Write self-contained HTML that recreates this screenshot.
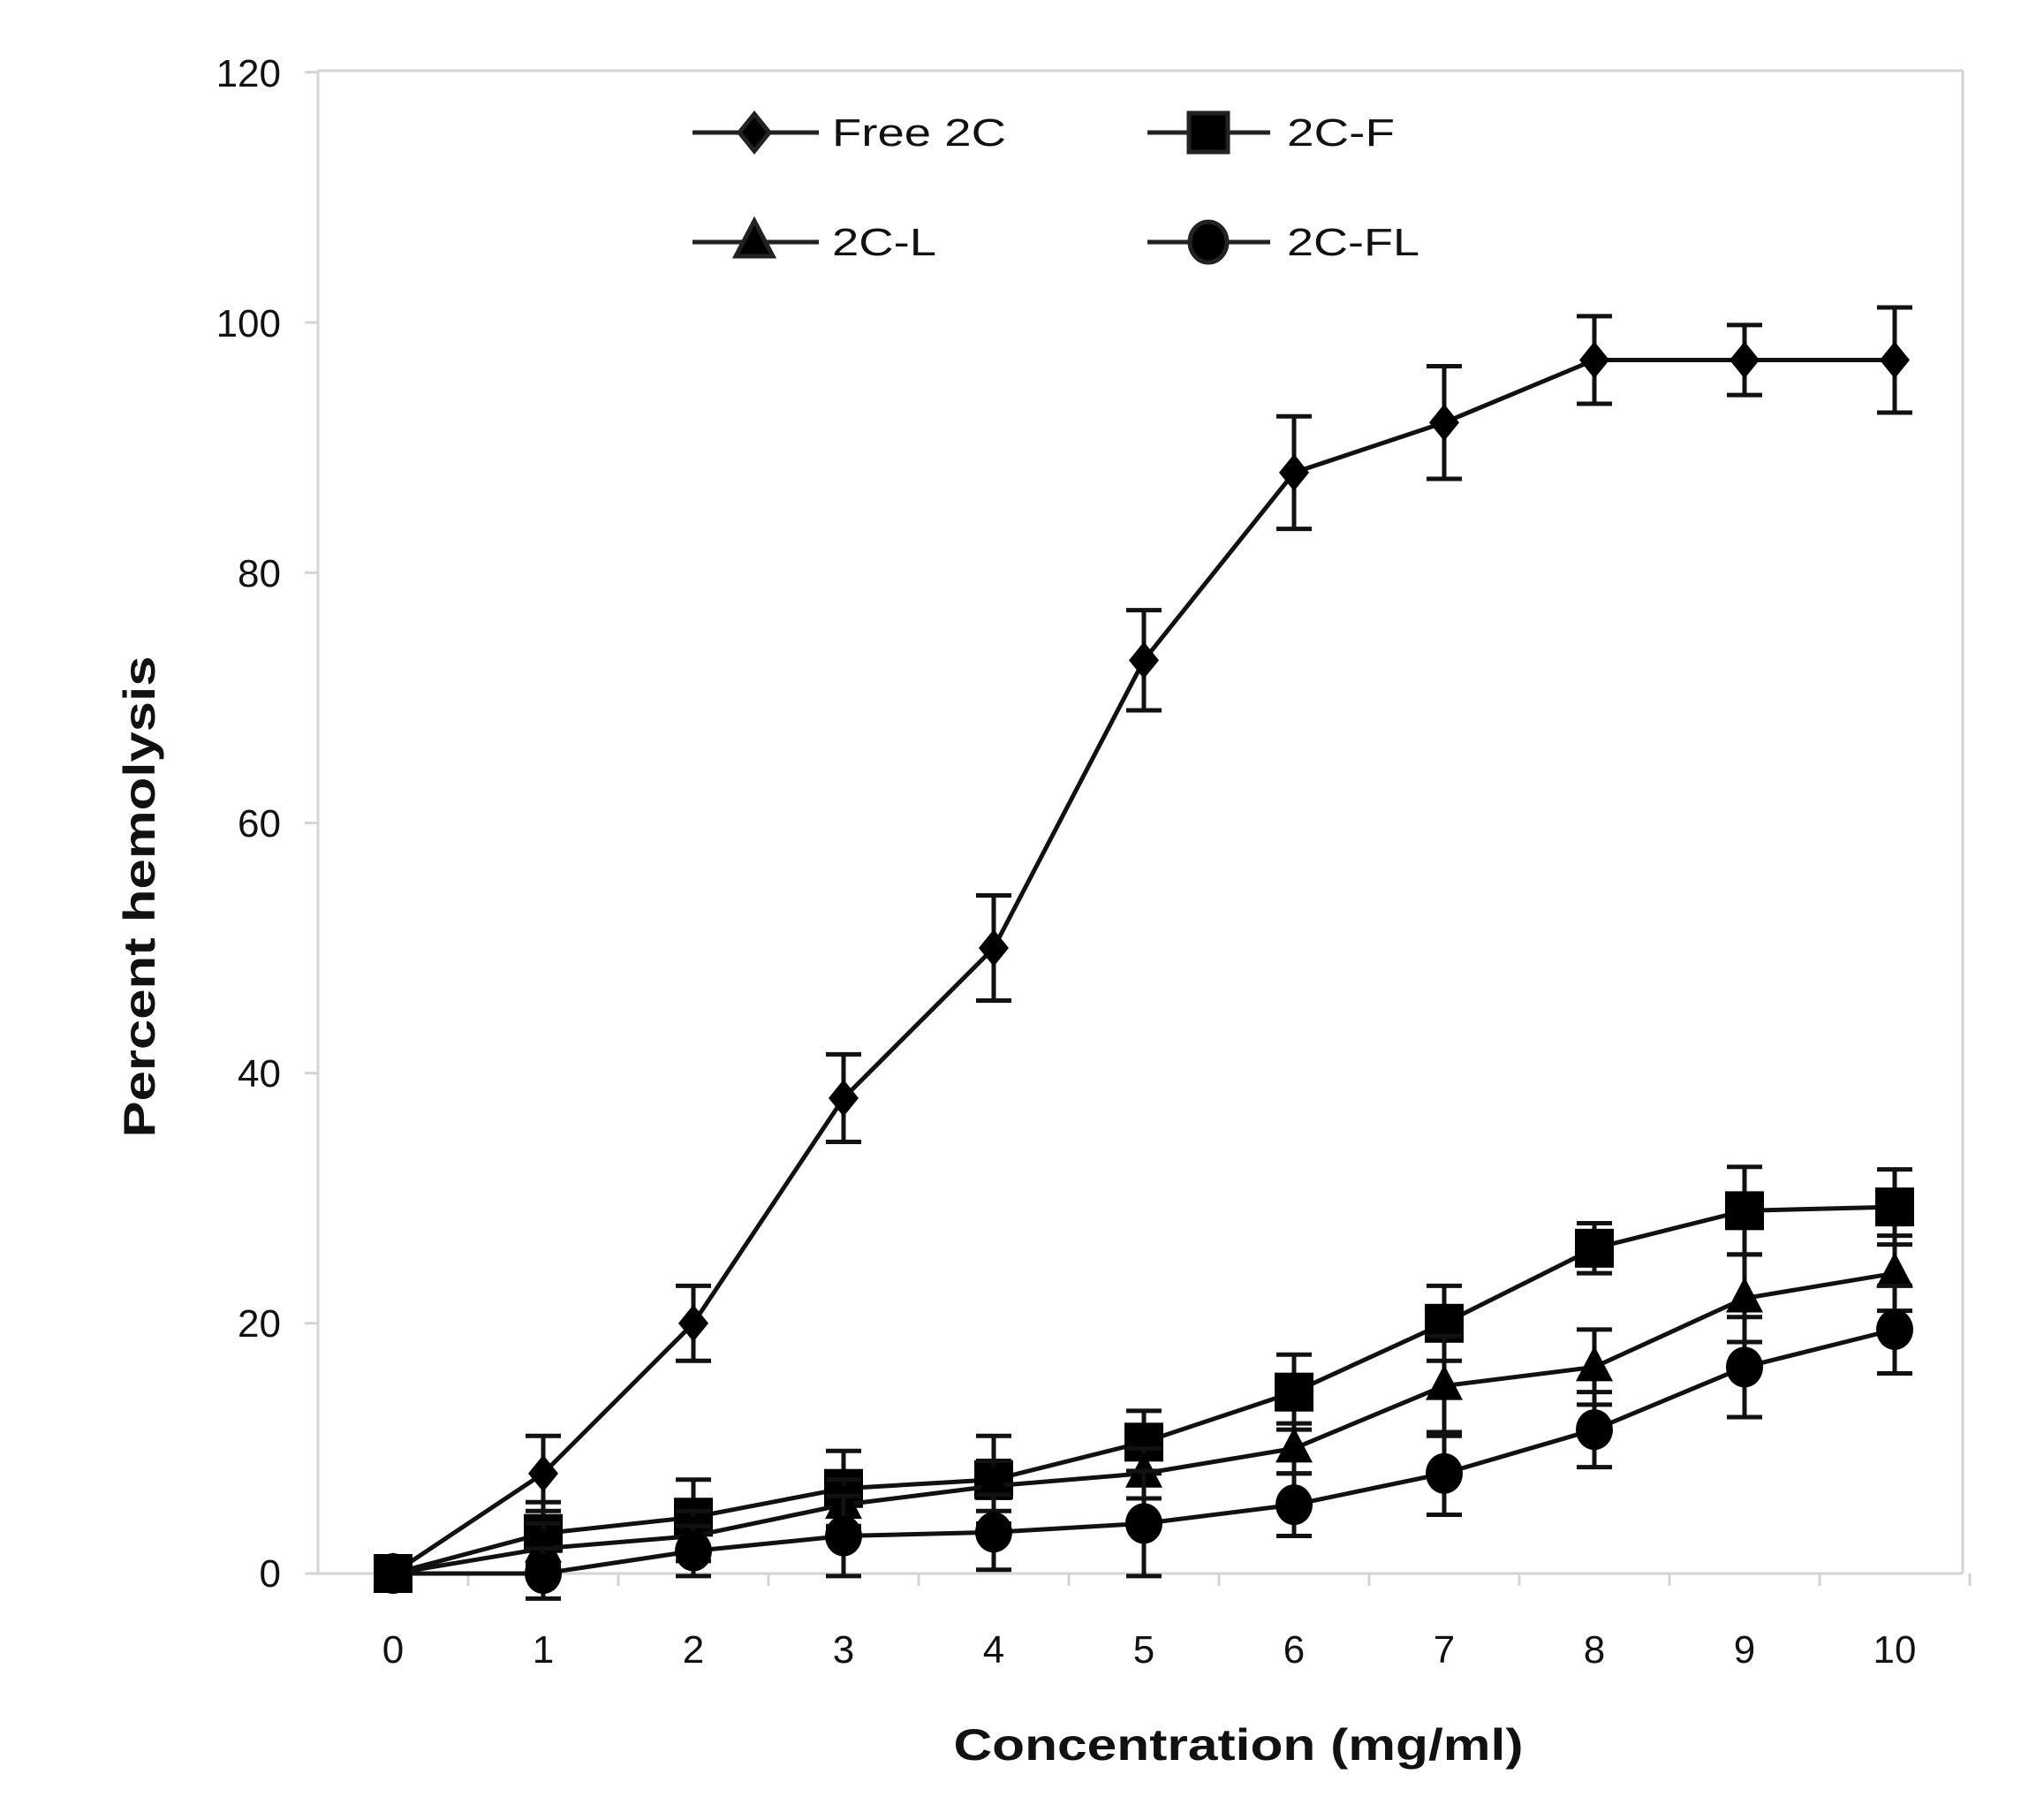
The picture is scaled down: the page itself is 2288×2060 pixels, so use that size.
<!DOCTYPE html>
<html><head><meta charset="utf-8"><style>
html,body{margin:0;padding:0;background:#fff}
svg{display:block}
text{font-family:"Liberation Sans",Arial,sans-serif;fill:#111}
</style></head><body>
<svg id="s" width="2288" height="2060" viewBox="0 0 2288 2060" xmlns="http://www.w3.org/2000/svg">
<rect x="0" y="0" width="2288" height="2060" fill="#fff"/>
<g id="frame" stroke="#d4d4d4" stroke-width="3" fill="none">
<line x1="360" y1="80" x2="2222" y2="80"/>
<line x1="2222" y1="80" x2="2222" y2="1781"/>
<line x1="360" y1="80" x2="360" y2="1781"/>
<line x1="345" y1="1781" x2="2222" y2="1781"/>
</g>
<g id="ticks" stroke="#d4d4d4" stroke-width="3"></g>
<g font-size="44" text-anchor="end">
<text x="318" y="1796">0</text>
<text x="318" y="1513">20</text>
<text x="318" y="1230">40</text>
<text x="318" y="947">60</text>
<text x="318" y="664">80</text>
<text x="318" y="381">100</text>
<text x="318" y="98">120</text>
</g>
<g font-size="44" text-anchor="middle">
<text x="445" y="1882">0</text><text x="615" y="1882">1</text><text x="785" y="1882">2</text>
<text x="955" y="1882">3</text><text x="1125" y="1882">4</text><text x="1295" y="1882">5</text>
<text x="1465" y="1882">6</text><text x="1635" y="1882">7</text><text x="1805" y="1882">8</text>
<text x="1975" y="1882">9</text><text x="2145" y="1882">10</text>
</g>
<text x="1402" y="1992" font-size="50" font-weight="bold" text-anchor="middle" textLength="645" lengthAdjust="spacingAndGlyphs">Concentration (mg/ml)</text>
<text transform="translate(175,1015) rotate(-90)" font-size="50" font-weight="bold" text-anchor="middle" textLength="545" lengthAdjust="spacingAndGlyphs">Percent hemolysis</text>
<g id="legend" stroke="#222" stroke-width="5">
<line x1="784" y1="150" x2="927" y2="150"/>
<line x1="1299" y1="150" x2="1438" y2="150"/>
<line x1="784" y1="274" x2="927" y2="274"/>
<line x1="1299" y1="274" x2="1438" y2="274"/>
</g>
<g font-size="44">
<text x="942" y="165" textLength="197" lengthAdjust="spacingAndGlyphs">Free 2C</text>
<text x="1457" y="165" textLength="122" lengthAdjust="spacingAndGlyphs">2C-F</text>
<text x="942" y="289" textLength="118" lengthAdjust="spacingAndGlyphs">2C-L</text>
<text x="1457" y="289" textLength="150" lengthAdjust="spacingAndGlyphs">2C-FL</text>
</g>
<g id="plot"></g>
<script>
(function(){
var NS="http://www.w3.org/2000/svg";
function X(i){return 445+170*i;}
function Y(v){return 1781-v*14.16;}
function el(p,n,a){var e=document.createElementNS(NS,n);for(var k in a)e.setAttribute(k,a[k]);p.appendChild(e);return e;}
var tk=document.getElementById('ticks');
for(var k=1;k<=11;k++){el(tk,'line',{x1:360+170*k,y1:1781,x2:360+170*k,y2:1795});}
for(var j=1;j<=6;j++){el(tk,'line',{x1:345,y1:Y(j*20),x2:360,y2:Y(j*20)});}
var g=document.getElementById('plot');
var S=[
 {m:'d',v:[0,8,20,38,50,73,88,92,97,97,97],e:[0,3,3,3.5,4.2,4,4.5,4.5,3.5,2.8,4.2]},
 {m:'s',v:[0,3.2,4.5,6.8,7.5,10.5,14.5,20,26,29,29.3],e:[0,2.5,3,3,3.5,2.5,3,3,2,3.5,3]},
 {m:'t',v:[0,2,3,5.5,7,8,10,15,16.5,22,24],e:[0,2,2,2,2,2,2,4,3,3.5,3]},
 {m:'c',v:[0,0,1.8,3,3.3,4,5.5,8,11.5,16.5,19.5],e:[0,2,2,3.2,3,4.2,2.5,3.3,3,4,3.5]}
];
function marker(p,m,x,y){
 if(m=='d')el(p,'polygon',{points:(x)+','+(y-21)+' '+(x+17)+','+y+' '+x+','+(y+21)+' '+(x-17)+','+y,fill:'#000'});
 else if(m=='s')el(p,'rect',{x:x-22,y:y-22,width:44,height:44,fill:'#000'});
 else if(m=='t')el(p,'polygon',{points:x+','+(y-24)+' '+(x+21)+','+(y+16)+' '+(x-21)+','+(y+16),fill:'#000'});
 else el(p,'ellipse',{cx:x,cy:y,rx:21,ry:23,fill:'#000'});
}
S.forEach(function(s){
 var pts=s.v.map(function(v,i){return X(i)+','+Y(v);}).join(' ');
 el(g,'polyline',{points:pts,fill:'none',stroke:'#111','stroke-width':5});
 s.v.forEach(function(v,i){
  if(s.e[i]>0){var x=X(i),y1=Y(v+s.e[i]),y2=Y(v-s.e[i]);
   el(g,'line',{x1:x,y1:y1,x2:x,y2:y2,stroke:'#111','stroke-width':5});
   el(g,'line',{x1:x-20,y1:y1,x2:x+20,y2:y1,stroke:'#111','stroke-width':5});
   el(g,'line',{x1:x-20,y1:y2,x2:x+20,y2:y2,stroke:'#111','stroke-width':5});}
 });
 s.v.forEach(function(v,i){marker(g,s.m,X(i),Y(v));});
});
var L=document.getElementById('legend');
marker(L,'d',854,150);marker(L,'s',1368,150);marker(L,'t',854,274);marker(L,'c',1368,274);
})();
</script>
</svg>
</body></html>
